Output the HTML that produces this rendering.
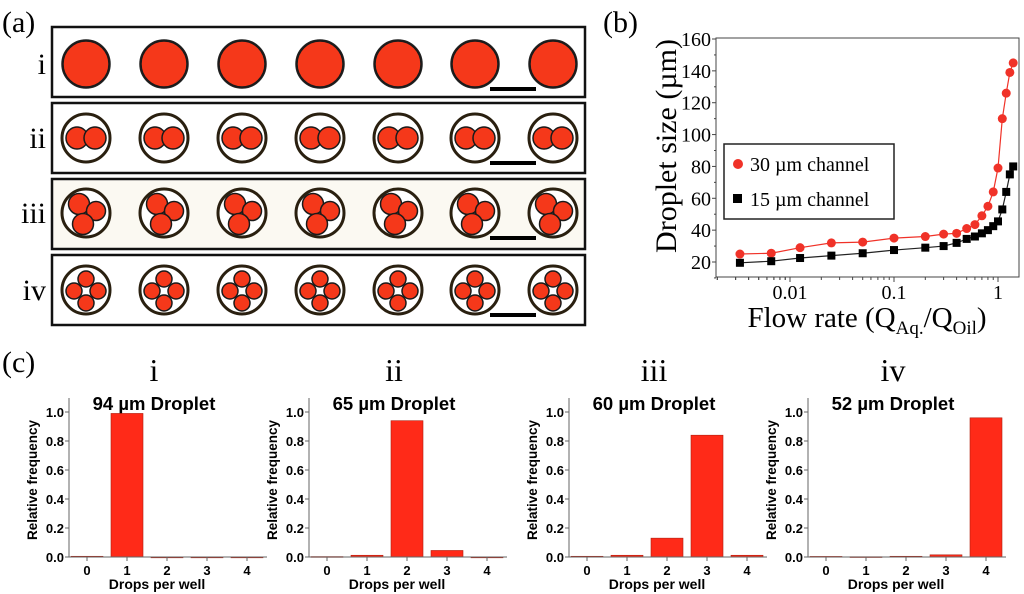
<!DOCTYPE html>
<html><head><meta charset="utf-8"><style>
body{margin:0;background:#fff;width:1024px;height:594px;overflow:hidden}
svg{display:block}
.serif{font-family:"Liberation Serif",serif}
.sans{font-family:"Liberation Sans",sans-serif;font-weight:bold}
</style></head><body>
<svg id="fig" width="1024" height="594" viewBox="0 0 1024 594">
<text class="serif" x="2" y="32" font-size="30">(a)</text>
<text class="serif" x="603" y="32" font-size="30">(b)</text>
<text class="serif" x="2" y="372" font-size="30">(c)</text>
<g id="pa"></g>
<g id="pb"></g>
<g id="pc"></g>
</svg>
<script>
// Panel (b) data
const flowRates=[0.0033,0.0066,0.0125,0.025,0.05,0.1,0.2,0.3,0.4,0.5,0.6,0.7,0.8,0.9,1.0,1.1,1.2,1.3,1.4];
const size30=[25,25.5,29,32,32.5,35,36,37.5,38,41,43.5,49,55,64,79,110,126,139,145];
const flowRates15=[0.0033,0.0066,0.0125,0.025,0.05,0.1,0.2,0.3,0.4,0.5,0.6,0.7,0.8,0.9,1.0,1.1,1.2,1.3,1.4];
const size15=[19.5,20.5,22.5,24,25.5,27.5,29,30,32,34.5,36,38,40,42.5,45.5,53,64,75,80];
const yTicksB=[20,40,60,80,100,120,140,160];
const xTicksB=[0.01,0.1,1];
const xTickLabelsB=["0.01","0.1","1"];
// Panel (c) data
const cats=[0,1,2,3,4];
const freqI=[0.005,0.99,0,0,0];
const freqII=[0.003,0.012,0.94,0.045,0];
const freqIII=[0.005,0.012,0.13,0.84,0.012];
const freqIV=[0.004,0.002,0.005,0.015,0.96];
const yTicksC=[0,0.2,0.4,0.6,0.8,1.0];
const histTitles=["94 µm Droplet","65 µm Droplet","60 µm Droplet","52 µm Droplet"];
const romans=["i","ii","iii","iv"];

const NS="http://www.w3.org/2000/svg";
function mk(p,t,a,txt){const e=document.createElementNS(NS,t);for(const k in a)e.setAttribute(k,a[k]);if(txt!==undefined)e.textContent=txt;p.appendChild(e);return e;}

// ---- Panel a
const pa=document.getElementById('pa');
const rowY=[64,138,213,290],rowTop=[27,103,179,255];
const wellX=[86,164,242,320,398,475,553];
const layouts=[
 [[0,0,23]],
 [[-9,0,11],[9,0,11]],
 [[-7,-9,10.5],[10,-2,9.5],[-3,11,10.5]],
 [[0,-11,8],[-12,1,8],[12,1,8],[0,13,8]]];
for(let r=0;r<4;r++){
 const b=mk(pa,'rect',{x:52,y:rowTop[r],width:533,height:70,fill:r==2?'#fbf9f2':'#fff',stroke:'#111','stroke-width':2.5});
 
 
 const t=mk(pa,'text',{x:46,y:rowY[r]+10,'font-size':30,'text-anchor':'end',class:'serif'},romans[r]);
 
 
 wellX.forEach((x,i)=>{
  const w=mk(pa,'circle',{cx:x,cy:rowY[r],r:r==0?23.5:24,fill:'#fff',stroke:r==0?'#222':'#2a2010','stroke-width':r==0?2.5:3});
  
  
  layouts[r].forEach(d=>{
   const c=mk(pa,'circle',{cx:x+d[0],cy:rowY[r]+d[1],r:d[2],fill:'#f5381a',stroke:'#1a1a1a','stroke-width':1.5});
   
   
  });
 });
 const sb=mk(pa,'line',{x1:490,x2:536,y1:rowY[r]+25,y2:rowY[r]+25,stroke:'#000','stroke-width':4});
 
 
}

// ---- Panel b
const pb=document.getElementById('pb');
const bx0=716,bx1=1019,by0=38,by1=277;
const lx=v=>998+(Math.log10(v))*104;
const ly=v=>262-(v-20)*(223/140);
mk(pb,'rect',{x:bx0,y:by0,width:bx1-bx0,height:by1-by0,fill:'none',stroke:'#444','stroke-width':1});
yTicksB.forEach(v=>{mk(pb,'line',{x1:bx0,x2:bx0-4,y1:ly(v),y2:ly(v),stroke:'#444'});
 mk(pb,'line',{x1:bx0,x2:bx0-2,y1:ly(v-10),y2:ly(v-10),stroke:'#444'});
 const t=mk(pb,'text',{x:bx0-5,y:ly(v)+7,'text-anchor':'end','font-size':20,class:'serif'},v);
 });
xTicksB.forEach((v,i)=>{mk(pb,'line',{x1:lx(v),x2:lx(v),y1:by1,y2:by1+5,stroke:'#444'});
 const t=mk(pb,'text',{x:lx(v),y:by1+22,'text-anchor':'middle','font-size':20,class:'serif'},xTickLabelsB[i]);
 
 for(let k=2;k<10;k++){const xx=lx(v*k/10);if(xx>bx0)mk(pb,'line',{x1:xx,x2:xx,y1:by1,y2:by1+3,stroke:'#444'});}});
for(let k=2;k<=9;k++){const xx=lx(k*0.001);if(xx>bx0)mk(pb,'line',{x1:xx,x2:xx,y1:by1,y2:by1+3,stroke:'#444'});}
const yt=mk(pb,'text',{x:0,y:0,transform:'translate(676,146) rotate(-90)','text-anchor':'middle','font-size':30,class:'serif'},'Droplet size (µm)');

const xt=mk(pb,'text',{x:867,y:327,'text-anchor':'middle','font-size':29,class:'serif'});
xt.innerHTML='Flow rate (Q<tspan font-size="19" dy="7">Aq.</tspan><tspan dy="-7">/Q</tspan><tspan font-size="19" dy="7">Oil</tspan><tspan dy="-7">)</tspan>';

const l30=mk(pb,'polyline',{points:flowRates.map((v,i)=>lx(v)+','+ly(size30[i])).join(' '),fill:'none',stroke:'#f03228','stroke-width':1.2});

const l15=mk(pb,'polyline',{points:flowRates15.map((v,i)=>lx(v)+','+ly(size15[i])).join(' '),fill:'none',stroke:'#222','stroke-width':1.2});

flowRates.forEach((v,i)=>{const c=mk(pb,'circle',{cx:lx(v),cy:ly(size30[i]),r:4.5,fill:'#f03228'});
 });
flowRates15.forEach((v,i)=>{const c=mk(pb,'rect',{x:lx(v)-4,y:ly(size15[i])-4,width:8,height:8,fill:'#000'});
 });
const lg=mk(pb,'g',{});
mk(lg,'rect',{x:724,y:144,width:170,height:75,fill:'#fff',stroke:'#222','stroke-width':1.5});
mk(lg,'circle',{cx:738,cy:164,r:5,fill:'#f03228'});
mk(lg,'text',{x:750,y:171,'font-size':20,class:'serif'},'30 µm channel');
mk(lg,'rect',{x:733,y:194,width:9,height:9,fill:'#000'});
mk(lg,'text',{x:750,y:206,'font-size':20,class:'serif'},'15 µm channel');

// ---- Panel c
const pc=document.getElementById('pc');
const axX=[69,309,569,808],freqs=[freqI,freqII,freqIII,freqIV];
const cy0=557,cyTop=398;
const cy=v=>cy0-v*(145/1.0);
for(let h=0;h<4;h++){
 const g=mk(pc,'g',{});
 const x0=axX[h],x1=x0+198,cx=c=>x0+18+c*40;
 const rn=mk(g,'text',{x:x0+85,y:381,'text-anchor':'middle','font-size':32,class:'serif'},romans[h]);
 
 const tt=mk(g,'text',{x:x0+85,y:410,'text-anchor':'middle','font-size':18.5,class:'sans'},histTitles[h]);
 
 cats.forEach((c,i)=>{const v=freqs[h][i];const b=mk(g,'rect',{x:cx(c)-16,y:cy(v),width:32,height:Math.max(cy0-cy(v),0.8),fill:'#ff2a18',stroke:'#b02010','stroke-width':0.6});
  
  mk(g,'line',{x1:cx(c),x2:cx(c),y1:cy0,y2:cy0+4,stroke:'#666'});
  const tl=mk(g,'text',{x:cx(c),y:cy0+18,'text-anchor':'middle','font-size':13,class:'sans'},c);
  });
 mk(g,'line',{x1:x0,x2:x1,y1:cy0,y2:cy0,stroke:'#666'});
 mk(g,'line',{x1:x0,x2:x0,y1:cyTop,y2:cy0,stroke:'#666'});
 yTicksC.forEach(v=>{mk(g,'line',{x1:x0,x2:x0-4,y1:cy(v),y2:cy(v),stroke:'#666'});
  const tl=mk(g,'text',{x:x0-5,y:cy(v)+5,'text-anchor':'end','font-size':13,class:'sans'},v.toFixed(1));
  });
 const xl=mk(g,'text',{x:x0+88,y:589,'text-anchor':'middle','font-size':14,class:'sans'},'Drops per well');
 
 const yl=mk(g,'text',{transform:`translate(${x0-32},480) rotate(-90)`,'text-anchor':'middle','font-size':13.5,class:'sans'},'Relative frequency');
 
}
</script>
</body></html>
